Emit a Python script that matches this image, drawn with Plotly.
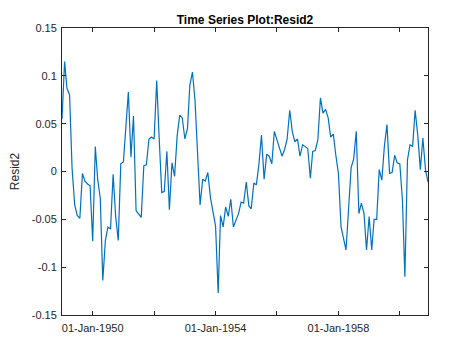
import pandas as pd
import plotly.graph_objects as go

start_date = "1949-01-01"
n_months = 144

resid2 = [
    0.055, 0.115, 0.087, 0.080, 0.003, -0.035, -0.046, -0.049, -0.002, -0.010,
    -0.013, -0.015, -0.073, 0.026, -0.008, -0.028, -0.114, -0.072, -0.058, -0.060,
    -0.003, -0.047, -0.072, 0.008, 0.010, 0.045, 0.083, 0.015, 0.058, -0.041,
    -0.045, -0.048, 0.006, 0.007, 0.034, 0.036, 0.034, 0.095, 0.036, -0.022,
    -0.021, 0.021, -0.040, 0.009, -0.005, 0.037, 0.059, 0.056, 0.034, 0.045,
    0.090, 0.104, 0.075, 0.020, -0.035, -0.008, -0.010, -0.001, -0.027, -0.042,
    -0.057, -0.127, -0.046, -0.058, -0.037, -0.047, -0.029, -0.058, -0.050, -0.044,
    -0.032, -0.033, -0.011, -0.036, -0.039, -0.012, -0.014, 0.008, 0.038, -0.008,
    0.018, 0.016, 0.008, 0.042, 0.033, 0.023, 0.016, 0.023, 0.034, 0.064,
    0.042, 0.031, 0.034, 0.016, 0.028, 0.026, 0.024, -0.007, 0.021, 0.022,
    0.033, 0.077, 0.061, 0.065, 0.056, 0.036, 0.039, 0.017, -0.002, -0.058,
    -0.068, -0.082, -0.040, 0.004, 0.013, 0.042, -0.044, -0.033, -0.044, -0.082,
    -0.047, -0.082, -0.050, -0.050, 0.002, -0.009, 0.026, 0.049, -0.002, -0.001,
    0.017, 0.009, 0.008, -0.030, -0.110, 0.012, 0.028, 0.026, 0.064, 0.038,
    0.002, 0.035, 0.002, -0.011,
]

x_tick_dates = ["1950-01-01", "1952-01-01", "1954-01-01", "1956-01-01", "1958-01-01", "1960-01-01"]
x_tick_text = ["01-Jan-1950", "", "01-Jan-1954", "", "01-Jan-1958", ""]
y_tick_vals = [-0.15, -0.1, -0.05, 0, 0.05, 0.1, 0.15]
y_tick_text = ["-0.15", "-0.1", "-0.05", "0", "0.05", "0.1", "0.15"]

dates = pd.date_range(start_date, periods=n_months, freq="MS")

axis_color = "#262626"
font_family = "Liberation Sans, Arial, sans-serif"

fig = go.Figure()
fig.add_trace(go.Scatter(
    x=dates, y=resid2, mode="lines",
    line=dict(color="#0072BD", width=1.2),
    showlegend=False,
))

fig.update_layout(
    width=474, height=355,
    margin=dict(l=54, r=54, t=20, b=48, autoexpand=False),
    paper_bgcolor="white", plot_bgcolor="white",
    font=dict(family=font_family, size=11, color=axis_color),
    title=dict(
        text="<b>Time Series Plot:Resid2</b>",
        font=dict(family=font_family, size=12, color="#000000"),
        x=(245 - 8) / 474, xref="container", xanchor="center",
        y=1 - 12 / 355, yref="container", yanchor="middle",
    ),
)

fig.update_xaxes(
    range=[dates[0], dates[-1]],
    tickvals=pd.to_datetime(x_tick_dates), ticktext=x_tick_text,
    ticks="inside", ticklen=4, tickcolor=axis_color, tickwidth=1,
    showline=True, linecolor=axis_color, linewidth=1, mirror="allticks",
    showgrid=False, zeroline=False,
    tickfont=dict(size=11, color=axis_color),
    ticklabelstandoff=3,
)
fig.update_yaxes(
    range=[-0.15, 0.15],
    tickvals=y_tick_vals, ticktext=y_tick_text,
    ticks="inside", ticklen=4, tickcolor=axis_color, tickwidth=1,
    showline=True, linecolor=axis_color, linewidth=1, mirror="allticks",
    showgrid=False, zeroline=False,
    tickfont=dict(size=11, color=axis_color),
    ticklabelstandoff=2,
    title=dict(text="Resid2", font=dict(size=12, color=axis_color), standoff=10),
)

fig.write_html("out.html")
